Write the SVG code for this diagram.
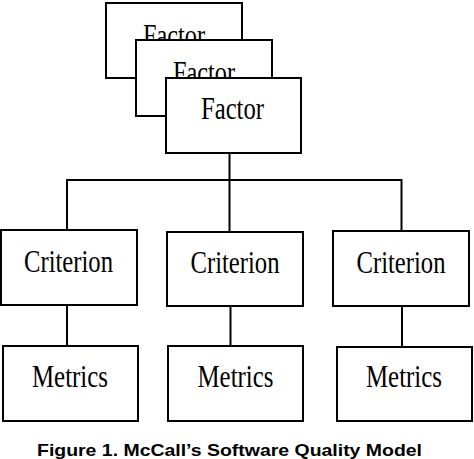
<svg xmlns="http://www.w3.org/2000/svg" width="474" height="459" viewBox="0 0 474 459">
<style>
.box{fill:#fff;stroke:#000;stroke-width:2}
.lbl{font-family:"Liberation Serif","Times New Roman",serif;font-size:31px;fill:#000;text-anchor:middle}
.cap{font-family:"Liberation Sans",Arial,sans-serif;font-size:16.5px;font-weight:bold;fill:#000}
#connectors line{stroke:#000;stroke-width:2}
</style>
<rect width="474" height="459" fill="#fff"/>
<g id="connectors">
<line x1="229.5" y1="153" x2="229.5" y2="231"/>
<line x1="67" y1="180" x2="402" y2="180"/>
<line x1="67" y1="179" x2="67" y2="231"/>
<line x1="401.5" y1="179" x2="401.5" y2="231"/>
<line x1="67" y1="305" x2="67" y2="346"/>
<line x1="230.5" y1="306" x2="230.5" y2="346"/>
<line x1="402" y1="306" x2="402" y2="347"/>
</g>
<g id="factor1">
<rect class="box" x="106" y="3" width="136" height="75"/>
<text class="lbl" x="174" y="46" textLength="62" lengthAdjust="spacingAndGlyphs">Factor</text>
</g>
<g id="factor2">
<rect class="box" x="136" y="40" width="136" height="76"/>
<text class="lbl" x="204" y="83" textLength="62" lengthAdjust="spacingAndGlyphs">Factor</text>
</g>
<g id="factor3">
<rect class="box" x="166" y="78" width="135" height="75"/>
<text class="lbl" x="232.5" y="119" textLength="63" lengthAdjust="spacingAndGlyphs">Factor</text>
</g>
<g id="criterion1">
<rect class="box" x="1" y="230" width="136" height="75"/>
<text class="lbl" x="68.5" y="272" textLength="89" lengthAdjust="spacingAndGlyphs">Criterion</text>
</g>
<g id="criterion2">
<rect class="box" x="167" y="232" width="136" height="74"/>
<text class="lbl" x="235" y="273" textLength="89" lengthAdjust="spacingAndGlyphs">Criterion</text>
</g>
<g id="criterion3">
<rect class="box" x="333" y="231" width="136" height="75"/>
<text class="lbl" x="401" y="273" textLength="89" lengthAdjust="spacingAndGlyphs">Criterion</text>
</g>
<g id="metrics1">
<rect class="box" x="3" y="346" width="135" height="75"/>
<text class="lbl" x="70" y="387" textLength="76" lengthAdjust="spacingAndGlyphs">Metrics</text>
</g>
<g id="metrics2">
<rect class="box" x="168" y="346" width="135" height="75"/>
<text class="lbl" x="235.5" y="387" textLength="76" lengthAdjust="spacingAndGlyphs">Metrics</text>
</g>
<g id="metrics3">
<rect class="box" x="337" y="347" width="135" height="74"/>
<text class="lbl" x="404" y="387" textLength="76" lengthAdjust="spacingAndGlyphs">Metrics</text>
</g>
<text class="cap" x="37" y="456" textLength="385" lengthAdjust="spacingAndGlyphs">Figure 1. McCall’s Software Quality Model</text>
</svg>
